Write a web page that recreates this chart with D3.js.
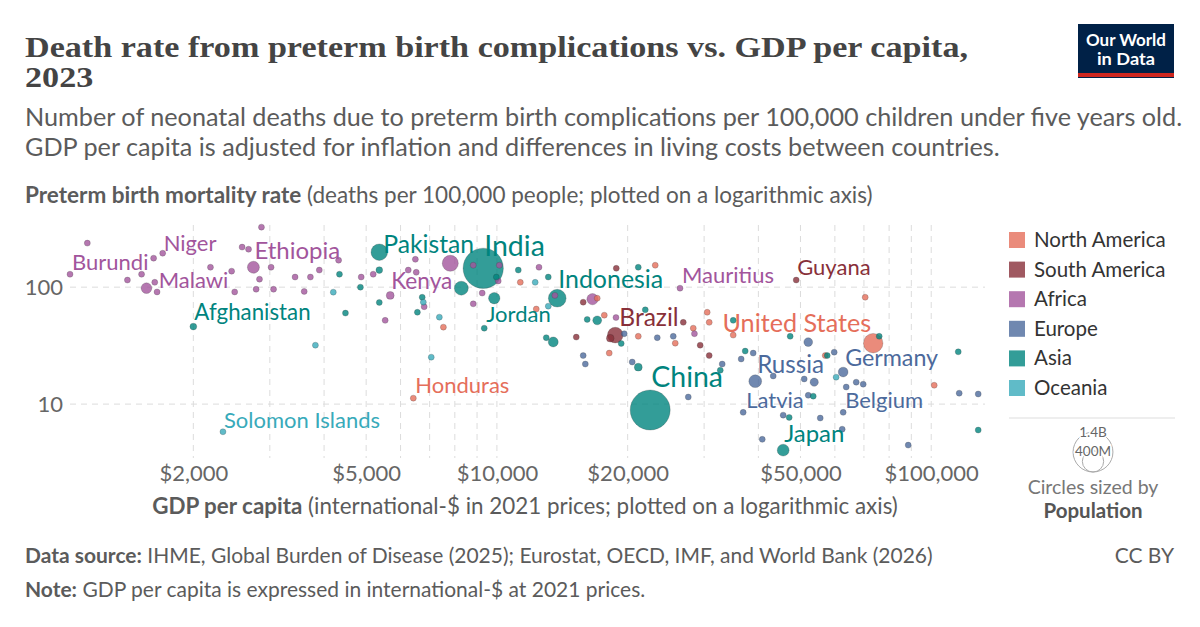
<!DOCTYPE html>
<html><head><meta charset="utf-8">
<script src="https://cdn.jsdelivr.net/npm/d3@7"></script>
<style>
body{margin:0;background:#fff;}
svg{display:block;font-family:Lato,"Noto Sans",sans-serif;}
</style></head><body>
<svg id="c" width="1200" height="627"></svg>
<script>
// ---------- DATA ----------
const continents = ["North America","South America","Africa","Europe","Asia","Oceania"];
const continentColors = ["#E56E5A","#883039","#A2559C","#4C6A9C","#00847E","#38AABA"];
// rows: [GDP per capita (int-$ 2021), preterm death rate per 100,000, population (millions), label]
const northAmerica = [
  [7530,45.5,8],[11320,110,8],[12320,65,8],[17020,80.5,8],[17670,57.6,8],[23150,154,3],
  [21160,38,8],[25740,33.2,8],[18140,27.3,8],[30490,61,8],[30820,50,8],[28320,44.6,8],
  [35000,38.9,8],[70470,82,8],[73520,33.2,335,"United States"],[57010,26,8],[101600,14.5,8],
  [6420,11.25,10,"Honduras"]
];
const southAmerica = [
  [15800,74.4,8],[18830,145,8],[15230,37.4,8],[18730,38.9,216,"Brazil"],[18240,36.6,52],
  [26860,50,8],[29380,31.9,8],[30820,26,8],[48880,115,0.8,"Guyana"]
];
const africa = [
  [2870,326,8],[1140,238,8],[1700,195,27,"Niger"],[1620,177,10],[2590,220,10],[2680,211,8],
  [1040,129,13,"Burundi"],[1520,129,8],[1410,115,6],[1560,98,100],[1630,110,21,"Malawi"],
  [1650,91,8],[2190,148,30],[2450,137,8],[2750,148,127,"Ethiopia"],[3020,148,8],[2840,117,8],
  [2490,91,8],[2790,96,30],[3060,96,8],[3430,122,8],[3720,122,8],[3900,140,8],[3600,92,30],
  [4320,170,8],[4870,122,8],[5190,129,8],[6490,173,8],[6250,140,8],[6520,134,8],
  [5680,85,55,"Kenya"],[5530,52,8],[6800,68,8],[7810,160,227],[8820,154,8],[10130,154,8],
  [10070,113,8],[9250,89,8],[8820,72,8],[12500,148,8],[13600,85,8],[16600,79,112],
  [18800,55,8],[26400,98,1.3,"Mauritius"],[28500,40,3]
];
const europe = [
  [19640,40,8],[23400,37,8],[25470,38,8],[15800,26,8],[15980,22,8],[20490,22.9,8],
  [33020,22,8],[36510,24.3,8],[38910,27.3,8],[52100,33.9,68],[39340,15.7,144,"Russia"],
  [43270,17.4,8],[51000,16.4,8],[53780,15.4,60],[52100,11.9,8],[59790,27.8,8],
  [62700,18.8,84,"Germany"],[63720,14,8],[67190,15.4,8],[69730,14.8,8],[27580,11.5,8],
  [36900,8.5,2,"Latvia"],[45620,8.05,8],[55520,7.6,8],[62700,8.5,12,"Belgium"],[62380,6.1,8],
  [40830,5.0,8],[88520,4.46,5],[116000,12.4,8],[128300,12.2,8]
];
const asia = [
  [2000,46,41,"Afghanistan"],[4340,129,10],[4850,100,10],[5360,199,240,"Pakistan"],[5360,140,40],
  [5360,74,8],[4480,60,8],[6730,82,8],[6560,61,8],[8280,98,171],[9300,145,1430,"India"],
  [9970,122,8],[9860,80.5,115],[9350,44.6,11,"Jordan"],[11200,140,8],[13130,122,8],
  [13770,80.5,277,"Indonesia"],[16140,53,8],[17020,52,70],[21960,64,8],[21160,148,8],
  [12990,37,8],[13480,34,88],[19330,33,8],[21160,20.7,55],[35000,52,8],[47340,38,8],
  [37300,28.4,8],[32680,19.5,8],[53500,11.7,8],[47100,7.7,8],[45620,4.04,124,"Japan"],
  [57620,26,8],[75900,38,8],[115400,28,8],[128300,6.0,6],[22540,8.9,1410,"China"]
];
const oceania = [
  [4200,90.6,8],[3820,31.9,8],[6770,74.4,8],[7370,55.4,8],[7060,25.2,8],[12250,110,8],
  [13130,68.8,8],[2340,5.8,0.7,"Solomon Islands"],[60400,17,27]
];
const seriesByContinent = [northAmerica, southAmerica, africa, europe, asia, oceania];
const xTickValues = [2000,5000,10000,20000,50000,100000];
const xTickLabels = ["$2,000","$5,000","$10,000","$20,000","$50,000","$100,000"];
const yTickValues = [10,100];
const yTickLabels = ["10","100"];
const sizeLegendValues = [1400,400];
const sizeLegendLabels = ["1.4B","400M"];

// ---------- LAYOUT ----------
const labelLayout = {
  "Burundi":[2,-4],"Niger":[1,-2],"Malawi":[4,6],"Ethiopia":[1,-8],"Afghanistan":[1,-7],
  "Pakistan":[4,1],"India":[1,-12],"Kenya":[1,-6],"Jordan":[2,-6],"Indonesia":[1,-10],
  "Mauritius":[2,-5],"Guyana":[1,-5],"Brazil":[4,-9],"United States":[-2,-11],
  "Honduras":[2,-5],"Solomon Islands":[1,-4],"China":[1,-23],"Russia":[2,-8],
  "Germany":[2,-6],"Latvia":[3,-4],"Belgium":[2,-4],"Japan":[1,-8]
};
const endAnchored = ["United States"];

const svg = d3.select("#c");
function fit(sel, target){
  const w = sel.node().getComputedTextLength();
  const fs = parseFloat(sel.attr("font-size"));
  sel.attr("font-size", (fs*target/w).toFixed(2));
  return fs*target/w;
}

// Title (glyphs stretched horizontally to the reference width)
const titleFont = "'Liberation Serif','Times New Roman',serif";
const t1 = svg.append("text").attr("x",25).attr("y",57)
  .attr("font-family",titleFont).attr("font-weight",700)
  .attr("font-size",28.5).attr("fill","#444").text("Death rate from preterm birth complications vs. GDP per capita,");
const stretch = 943 / t1.node().getComputedTextLength();
t1.attr("textLength",943).attr("lengthAdjust","spacingAndGlyphs");
const t2 = svg.append("text").attr("x",25).attr("y",87)
  .attr("font-family",titleFont).attr("font-weight",700)
  .attr("font-size",28.5).attr("fill","#444").text("2023");
t2.attr("textLength",(t2.node().getComputedTextLength()*stretch).toFixed(2)).attr("lengthAdjust","spacingAndGlyphs");

// Subtitle
const s1 = svg.append("text").attr("x",25).attr("y",126).attr("font-size",21).attr("fill","#5b5b5b")
  .text("Number of neonatal deaths due to preterm birth complications per 100,000 children under five years old.");
const sfs = fit(s1, 1157);
svg.append("text").attr("x",25).attr("y",156).attr("font-size",sfs).attr("fill","#5b5b5b")
  .text("GDP per capita is adjusted for inflation and differences in living costs between countries.");

// Logo
svg.append("rect").attr("x",1078).attr("y",24).attr("width",96).attr("height",54).attr("fill","#002147");
svg.append("rect").attr("x",1078).attr("y",73).attr("width",96).attr("height",4).attr("fill","#CE261E");
[["Our World",46,80],["in Data",65,58]].forEach(([s,yy,w])=>{
  svg.append("text").attr("x",1126).attr("y",yy).attr("text-anchor","middle")
    .attr("font-size",17.5).attr("font-weight",700).attr("fill","#fff")
    .attr("textLength",w).attr("lengthAdjust","spacingAndGlyphs").text(s);
});

// Y axis title
const yt = svg.append("text").attr("x",25).attr("y",203).attr("font-size",18).attr("fill","#5b5b5b");
yt.append("tspan").attr("font-weight",700).text("Preterm birth mortality rate");
yt.append("tspan").text(" (deaths per 100,000 people; plotted on a logarithmic axis)");
fit(yt, 848);

// Scales
const x = d3.scaleLog().domain([1040,133000]).range([70,985]);
const y = d3.scaleLog().domain([3.6,340]).range([456,225]);
const rScale = d3.scaleSqrt().domain([0,1410]).range([0,20]);
const radius = p => Math.max(3, rScale(p));
const labelSize = d3.scaleLinear().domain([3,6,20]).range([22,24,28.5]).clamp(true);

// Grid
const grid = svg.append("g");
grid.selectAll("line.v").data(x.ticks()).join("line")
  .attr("x1",d=>x(d)).attr("x2",d=>x(d)).attr("y1",225).attr("y2",458)
  .attr("stroke","#dcdcdc").attr("stroke-dasharray","6,5");
grid.selectAll("line.h").data(yTickValues).join("line")
  .attr("x1",70).attr("x2",985).attr("y1",d=>y(d)).attr("y2",d=>y(d))
  .attr("stroke","#dcdcdc").attr("stroke-dasharray","6,5");

// Axes labels
const xAxis = d3.axisBottom(x).tickValues(xTickValues).tickFormat((d,i)=>xTickLabels[i]).tickSize(0).tickPadding(0);
const gx = svg.append("g").attr("transform","translate(0,464)").call(xAxis);
gx.select(".domain").remove();
gx.selectAll("text").attr("font-size",22).attr("fill","#666").attr("font-family","Lato").attr("dy","0.76em");
const yAxis = d3.axisLeft(y).tickValues(yTickValues).tickFormat((d,i)=>yTickLabels[i]).tickSize(0).tickPadding(0);
const gy = svg.append("g").attr("transform","translate(63,0)").call(yAxis);
gy.select(".domain").remove();
gy.selectAll("text").attr("font-size",22).attr("fill","#666").attr("font-family","Lato");

// X axis title
const xt = svg.append("text").attr("x",525).attr("y",514).attr("text-anchor","middle").attr("font-size",18).attr("fill","#5b5b5b");
xt.append("tspan").attr("font-weight",700).text("GDP per capita");
xt.append("tspan").text(" (international-$ in 2021 prices; plotted on a logarithmic axis)");
fit(xt, 746);

// Points
const points = [];
seriesByContinent.forEach((arr,ci)=>arr.forEach(r=>points.push({gdp:r[0],rate:r[1],pop:r[2],name:r[3]||null,c:ci})));
points.sort((a,b)=>b.pop-a.pop);
svg.append("g").selectAll("circle").data(points).join("circle")
  .attr("cx",d=>x(d.gdp)).attr("cy",d=>y(d.rate)).attr("r",d=>radius(d.pop))
  .attr("fill",d=>continentColors[d.c]).attr("fill-opacity",0.8)
  .attr("stroke","#333").attr("stroke-opacity",0.45).attr("stroke-width",0.5);

// Labels
svg.append("g").selectAll("text").data(points.filter(d=>d.name)).join("text")
  .attr("x",d=>x(d.gdp)+labelLayout[d.name][0])
  .attr("y",d=>y(d.rate)+labelLayout[d.name][1])
  .attr("text-anchor",d=>endAnchored.includes(d.name)?"end":"start")
  .attr("font-size",d=>labelSize(radius(d.pop)).toFixed(2))
  .attr("fill",d=>continentColors[d.c]).text(d=>d.name);

// Legend
const lg = svg.append("g");
continents.forEach((c,i)=>{
  const yy = 240 + i*29.6;
  lg.append("rect").attr("x",1009).attr("y",yy-8).attr("width",16).attr("height",16)
    .attr("fill",continentColors[i]).attr("fill-opacity",0.8);
  lg.append("text").attr("x",1034).attr("y",yy+7).attr("font-size",20.5).attr("fill","#333").text(c);
});
lg.append("line").attr("x1",1009).attr("x2",1175).attr("y1",418).attr("y2",418).attr("stroke","#ddd");

// Size legend
const sl = svg.append("g");
sizeLegendValues.forEach((v,i)=>{
  const r = rScale(v);
  sl.append("circle").attr("cx",1093).attr("cy",472-r).attr("r",r)
    .attr("fill","none").attr("stroke","#aaa").attr("stroke-width",1);
});
sizeLegendValues.forEach((v,i)=>{
  const r = rScale(v);
  sl.append("text").attr("x",1093).attr("y",472-2*r+5).attr("text-anchor","middle")
    .attr("font-size",13.5).attr("fill","#666").attr("stroke","#fff").attr("stroke-width",3)
    .attr("paint-order","stroke").text(sizeLegendLabels[i]);
});
sl.append("text").attr("x",1093).attr("y",494).attr("text-anchor","middle").attr("font-size",19.5).attr("fill","#777").text("Circles sized by");
sl.append("text").attr("x",1093).attr("y",518).attr("text-anchor","middle").attr("font-size",20.5).attr("font-weight",700).attr("fill","#555").text("Population");

// Footer
const f1 = svg.append("text").attr("x",25).attr("y",563).attr("font-size",18).attr("fill","#5b5b5b");
f1.append("tspan").attr("font-weight",700).text("Data source:");
f1.append("tspan").text(" IHME, Global Burden of Disease (2025); Eurostat, OECD, IMF, and World Bank (2026)");
const ffs = fit(f1, 908);
const f2 = svg.append("text").attr("x",25).attr("y",597).attr("font-size",ffs).attr("fill","#5b5b5b");
f2.append("tspan").attr("font-weight",700).text("Note:");
f2.append("tspan").text(" GDP per capita is expressed in international-$ at 2021 prices.");
svg.append("text").attr("x",1174).attr("y",563).attr("text-anchor","end").attr("font-size",ffs).attr("fill","#5b5b5b").text("CC BY");
</script>
</body></html>
